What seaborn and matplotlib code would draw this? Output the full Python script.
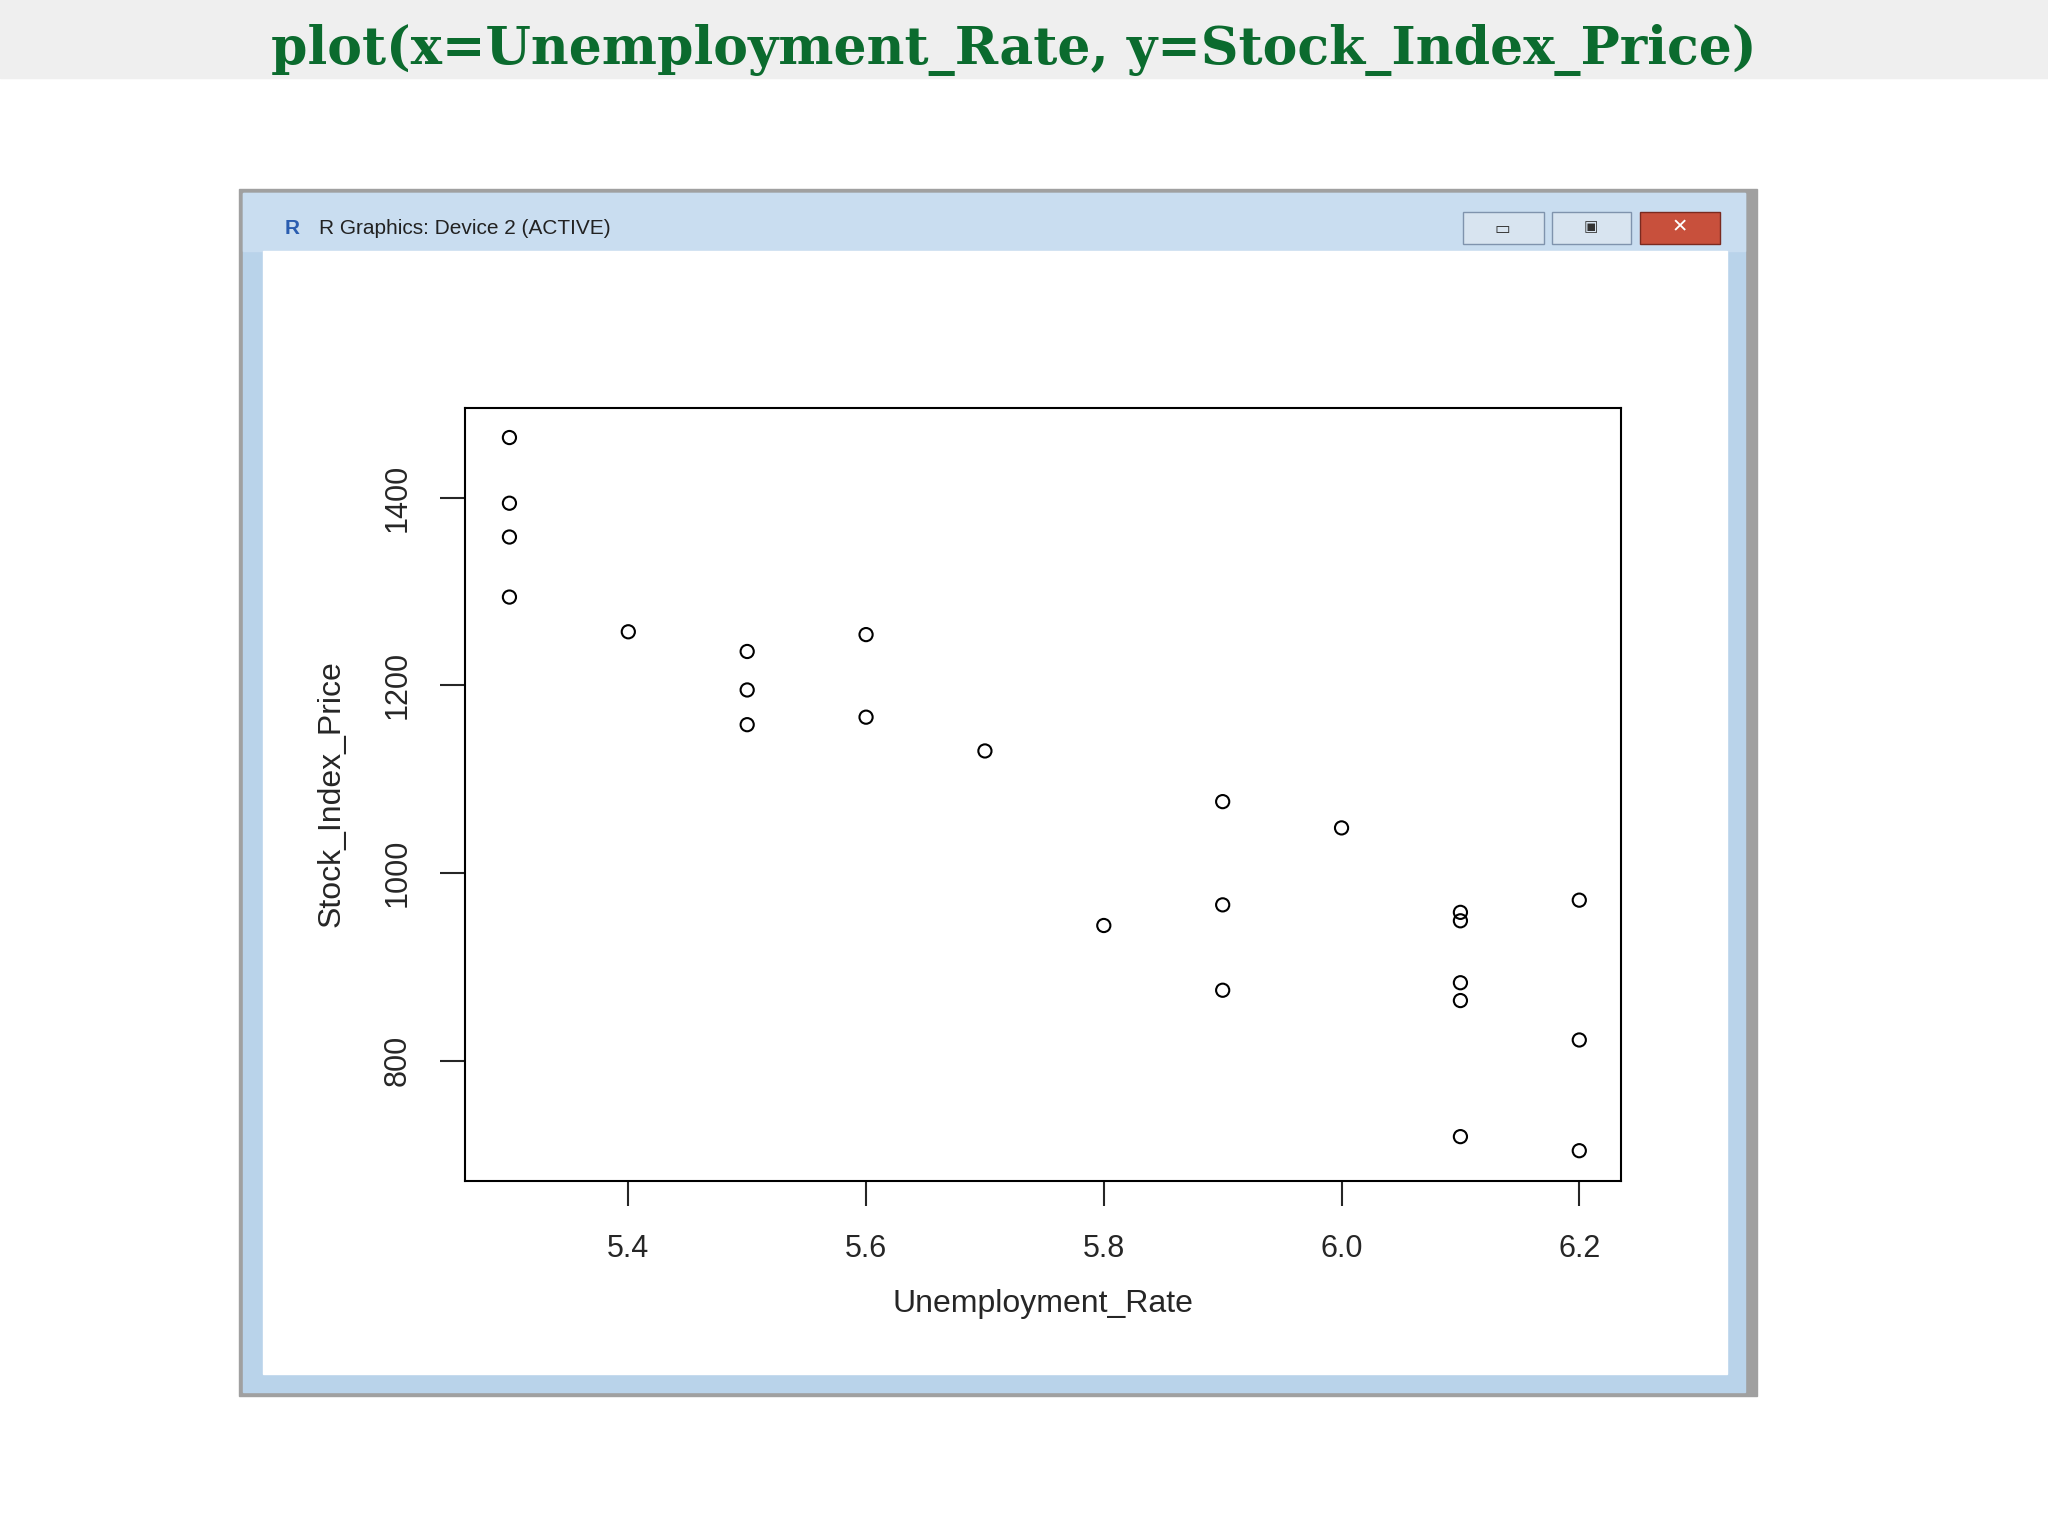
import matplotlib
matplotlib.use("Agg")
import matplotlib.pyplot as plt
import seaborn as sns
import pandas as pd
from matplotlib.patches import Rectangle

unemployment_rate = [5.3, 5.3, 5.3, 5.3, 5.4, 5.5, 5.5, 5.5, 5.6, 5.6, 5.7, 5.8,
                     5.9, 5.9, 5.9, 6.0, 6.1, 6.1, 6.1, 6.1, 6.1, 6.2, 6.2, 6.2]
stock_index_price = [1464, 1394, 1358, 1294, 1257, 1236, 1195, 1158, 1254, 1166, 1130, 944,
                     1076, 966, 875, 1048, 958, 949, 883, 864, 719, 971, 822, 704]
x_ticks = [5.4, 5.6, 5.8, 6.0, 6.2]
y_ticks = [800, 1000, 1200, 1400]

df = pd.DataFrame({"Unemployment_Rate": unemployment_rate, "Stock_Index_Price": stock_index_price})

sns.set_style("white")
plt.rcParams['font.family'] = ['Liberation Sans', 'DejaVu Sans']
W, H = 1568, 1176
fig = plt.figure(figsize=(20.48, 15.36), dpi=100)

def R(x0, y0, x1, y1, **kw):
    fig.patches.append(Rectangle((x0 / W, 1 - y1 / H), (x1 - x0) / W, (y1 - y0) / H,
                                 transform=fig.transFigure, figure=fig, **kw))

R(0, 0, W, 60, color="#efefef", zorder=0)
fig.text(776 / W, 1 - 38 / H, "plot(x=Unemployment_Rate, y=Stock_Index_Price)", ha="center", va="center",
         fontsize=37.5, fontweight="bold", color="#0b6b2e", family=["DejaVu Serif"])
R(183, 145, 1345, 1069, color="#a0a0a0", zorder=0)
R(186, 148, 1336, 1066, color="#b9d3ea", zorder=0)
R(186, 148, 1336, 192, color="#c9ddf0", zorder=0)
R(201, 192, 1322, 1052, color="white", zorder=0)
fig.text(244 / W, 1 - 175 / H, "R Graphics: Device 2 (ACTIVE)", ha="left", va="center", fontsize=15, color="#222222")
fig.text(218 / W, 1 - 175 / H, "R", ha="left", va="center", fontsize=15, fontweight="bold", color="#2a5db0")
R(1120, 162, 1182, 187, color="#d8e4f0", ec="#7f93ad", zorder=1)
R(1188, 162, 1249, 187, color="#d8e4f0", ec="#7f93ad", zorder=1)
R(1256, 162, 1317, 187, color="#c8503c", ec="#7a2a20", zorder=1)
fig.text(1150 / W, 1 - 176 / H, "▭", ha="center", va="center", fontsize=12, color="#333")
fig.text(1218 / W, 1 - 174 / H, "▣", ha="center", va="center", fontsize=11, color="#333")
fig.text(1286 / W, 1 - 174 / H, "✕", ha="center", va="center", fontsize=14, color="white", fontweight="bold", family=["DejaVu Sans"])

ax = fig.add_axes([356 / W, 1 - 904 / H, (1241 - 356) / W, (904 - 312) / H])
ax.set_zorder(10)
sns.scatterplot(data=df, x="Unemployment_Rate", y="Stock_Index_Price", ax=ax,
                marker="o", s=90, facecolor="none", edgecolor="black", linewidth=1.5)
ax.set_xlim(5.2626, 6.235)
ax.set_ylim(672, 1496)
ax.set_xticks(x_ticks)
ax.set_xticklabels([f"{v:.1f}" for v in x_ticks], fontsize=22)
ax.set_yticks(y_ticks)
ax.set_yticklabels([str(v) for v in y_ticks], fontsize=22, rotation=90, va="center")
ax.tick_params(direction="out", length=18, width=1.5, pad=20, left=True, bottom=True)
for s in ax.spines.values():
    s.set_linewidth(1.5); s.set_color("black")
ax.set_xlabel("Unemployment_Rate", fontsize=23, labelpad=18)
ax.set_ylabel("Stock_Index_Price", fontsize=23, labelpad=26)
fig.savefig("out.png", dpi=100)
